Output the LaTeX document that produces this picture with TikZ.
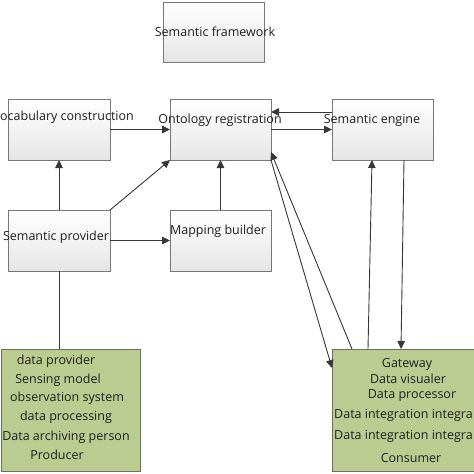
\documentclass[tikz,border=0pt]{standalone}
\usepackage{fontspec}
\setmainfont{Open Sans}
\usetikzlibrary{arrows.meta,shadows}
\definecolor{boxline}{RGB}{120,120,120}
\definecolor{grn}{RGB}{186,204,144}
\definecolor{grnline}{RGB}{105,112,92}
\definecolor{arr}{RGB}{55,55,55}
\tikzset{
  graybox/.style={draw=boxline,line width=0.9pt,top color=white,bottom color=black!10,
    drop shadow={shadow xshift=1pt,shadow yshift=-1pt,opacity=0.25},
    inner sep=0pt,outer sep=0pt},
  greenbox/.style={draw=grnline,line width=0.9pt,fill=grn,
    drop shadow={shadow xshift=1pt,shadow yshift=-1pt,opacity=0.25},
    inner sep=0pt,outer sep=0pt},
  lbl/.style={inner sep=0pt,font=\fontsize{12.5}{14}\selectfont,text=black!88},
  conn/.style={draw=arr,line width=0.9pt},
  arrow/.style={conn,-{Triangle[length=8pt,width=7.5pt]}}
}
\begin{document}
\begin{tikzpicture}[x=1pt,y=-1pt]
\useasboundingbox (0,0) rectangle (474,474);
\clip (0,0) rectangle (474,474);
% boxes
\node[graybox,minimum width=101pt,minimum height=60pt] (fw) at (213.5,32) {};
\node[graybox,minimum width=102pt,minimum height=61pt] (voc) at (59,129.5) {};
\node[graybox,minimum width=101pt,minimum height=61pt] (ont) at (220.5,129.5) {};
\node[graybox,minimum width=101pt,minimum height=61pt] (eng) at (382.5,129.5) {};
\node[graybox,minimum width=102pt,minimum height=61pt] (prov) at (59,240.5) {};
\node[graybox,minimum width=101pt,minimum height=61pt] (map) at (220.5,240.5) {};
\node[greenbox,minimum width=139pt,minimum height=122pt] (gl) at (70.5,410) {};
\node[greenbox,minimum width=148pt,minimum height=122pt] (gr) at (406,410) {};
% labels
\node[lbl] (tfw) at (215,32) {Semantic framework};
\node[lbl,anchor=west] (tvoc) at (0,117) {ocabulary construction};
\node[lbl] (tont) at (220,120) {Ontology registration};
\node[lbl] (teng) at (372,120) {Semantic engine};
\node[lbl] (tprov) at (56,237) {Semantic provider};
\node[lbl] (tmap) at (218,231) {Mapping builder};
\node[lbl] (l1) at (56,361) {data provider};
\node[lbl] (l2) at (58,380) {Sensing model};
\node[lbl] (l3) at (67,398) {observation system};
\node[lbl] (l4) at (66,417) {data processing};
\node[lbl] (l5) at (66,437) {Data archiving person};
\node[lbl] (l6) at (57,455) {Producer};
\node[lbl] (r1) at (407,364) {Gateway};
\node[lbl] (r2) at (408,379) {Data visualer};
\node[lbl] (r3) at (412,396) {Data processor};
\node[lbl,anchor=west] (r4) at (334,415) {Data integration integra};
\node[lbl,anchor=west] (r5) at (334,436) {Data integration integra};
\node[lbl] (r6) at (411,458) {Consumer};
% connectors
\draw[arrow] (voc.east) -- (ont.west);
\draw[arrow] ([yshift=17.5pt]eng.west) -- ([yshift=17.5pt]ont.east);
\draw[arrow] (ont.east) -- (eng.west);
\draw[arrow] (prov.north) -- (voc.south);
\draw[arrow] (prov.north east) -- (ont.south west);
\draw[arrow] (map.north) -- (ont.south);
\draw[arrow] (prov.east) -- (map.west);
\draw[conn] (prov.south) -- (prov.south |- gl.north);
\draw[arrow] (ont.south east) -- ([yshift=-19pt]gr.north west);
\draw[arrow] ([xshift=20pt]gr.north west) -- ([yshift=-22.5pt]ont.east);
\draw[arrow] ([xshift=36pt]gr.north west) -- ([xshift=-10.5pt]eng.south);
\draw[arrow] ([xshift=21.5pt]eng.south) -- ([xshift=69pt]gr.north west);
\end{tikzpicture}
\end{document}
